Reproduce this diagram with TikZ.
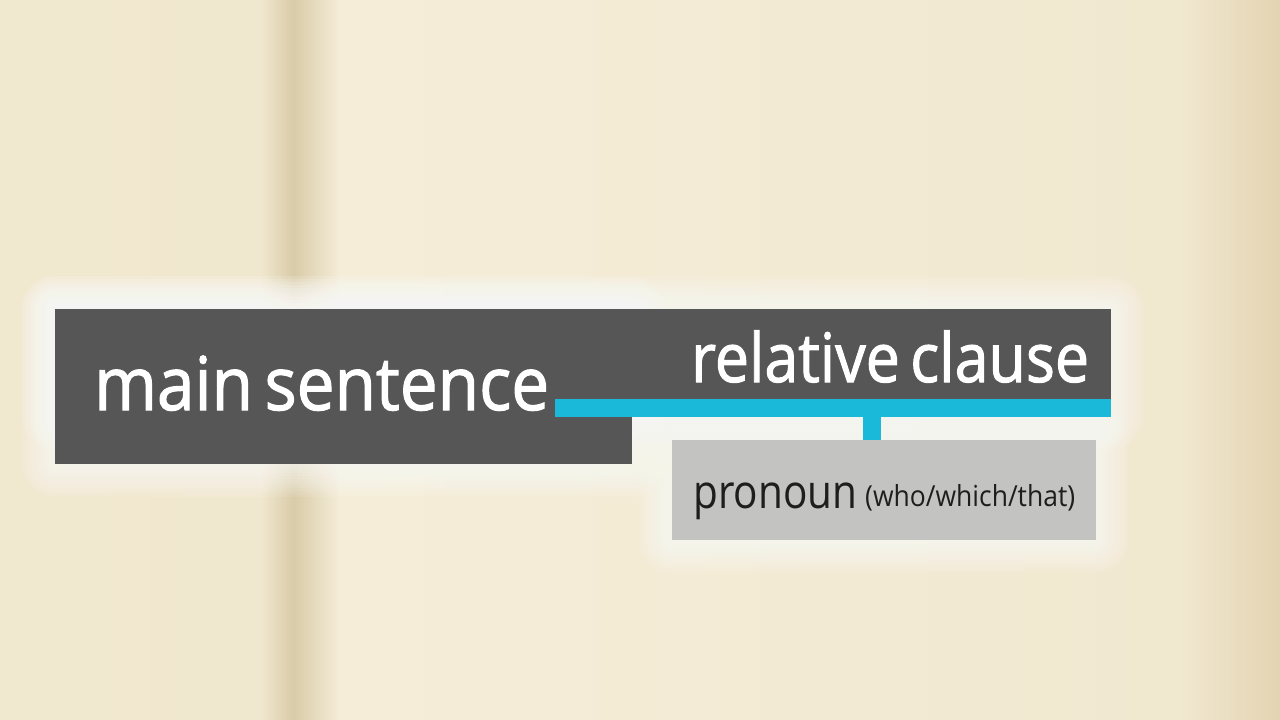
\documentclass[tikz,border=0pt]{standalone}
\usepackage{fontspec}
\setmainfont{Open Sans}
\newfontfamily\semifont[FakeBold=1.6]{Open Sans}
\definecolor{bgA}{HTML}{F1E8D0}
\definecolor{bgB}{HTML}{F5EDD8}
\definecolor{bgD}{HTML}{D9CBA8}
\definecolor{bgR}{HTML}{E4D4B2}
\definecolor{darkbox}{HTML}{565656}
\definecolor{cyanbar}{HTML}{1BB9D9}
\definecolor{lightbox}{HTML}{C3C3C1}
\definecolor{darktext}{HTML}{1E1E1E}
\tikzset{
  halo/.style={fill=white, fill opacity=0.085, draw=none},
  whitelabel/.style={text=white, inner sep=0pt, anchor=base west},
}
\begin{document}
\begin{tikzpicture}[x=1pt,y=-1pt]
\useasboundingbox (0,0) rectangle (1280,720);
% background
\shade[left color=bgA, right color=bgA!97!bgD] (0,0) rectangle (262,720);
\shade[left color=bgA!97!bgD, right color=bgD] (261,0) rectangle (294,720);
\shade[left color=bgD, right color=bgB] (293,0) rectangle (340,720);
\shade[left color=bgB, right color=bgA] (339,0) rectangle (1180,720);
\shade[left color=bgA, right color=bgR] (1179,0) rectangle (1280,720);
% halo
\foreach \r in {3,6,...,33}{
  \fill[halo, rounded corners=\r pt] (55-\r,309-\r) rectangle (1111+\r,417+\r);
  \fill[halo, rounded corners=\r pt] (55-\r,309-\r) rectangle (632+\r,464+\r);
  \fill[halo, rounded corners=\r pt] (672-\r,440-\r) rectangle (1096+\r,540+\r);
}
% boxes
\fill[darkbox] (55,309) rectangle (1111,417);
\fill[darkbox] (55,309) rectangle (632,464);
\node[fill=cyanbar, minimum width=556pt, minimum height=18pt, inner sep=0pt, anchor=north west] (bar) at (555,399) {};
\node[fill=lightbox, minimum width=424pt, minimum height=100pt, inner sep=0pt, anchor=north west] (pro) at (672,440) {};
\draw[cyanbar, line width=18pt] (bar.south -| 872,0) -- (pro.north -| 872,0);
% labels
\node[whitelabel, font=\semifont\fontsize{74}{74}\selectfont] (main) at (94,410) {\resizebox{455pt}{\height}{main\hspace{0.17em}sentence}};
\node[whitelabel, font=\semifont\fontsize{68}{68}\selectfont] (rel) at (691,382) {\resizebox{398pt}{\height}{relative\hspace{0.17em}clause}};
\node[text=darktext, inner sep=0pt, anchor=base west, font=\fontsize{47}{47}\selectfont] (pn) at (693,508) {\resizebox{164pt}{\height}{pronoun}};
\node[text=darktext, inner sep=0pt, anchor=base west, font=\fontsize{29}{29}\selectfont] (wh) at (865,506) {\resizebox{210pt}{\height}{(who/which/that)}};
\end{tikzpicture}
\end{document}
